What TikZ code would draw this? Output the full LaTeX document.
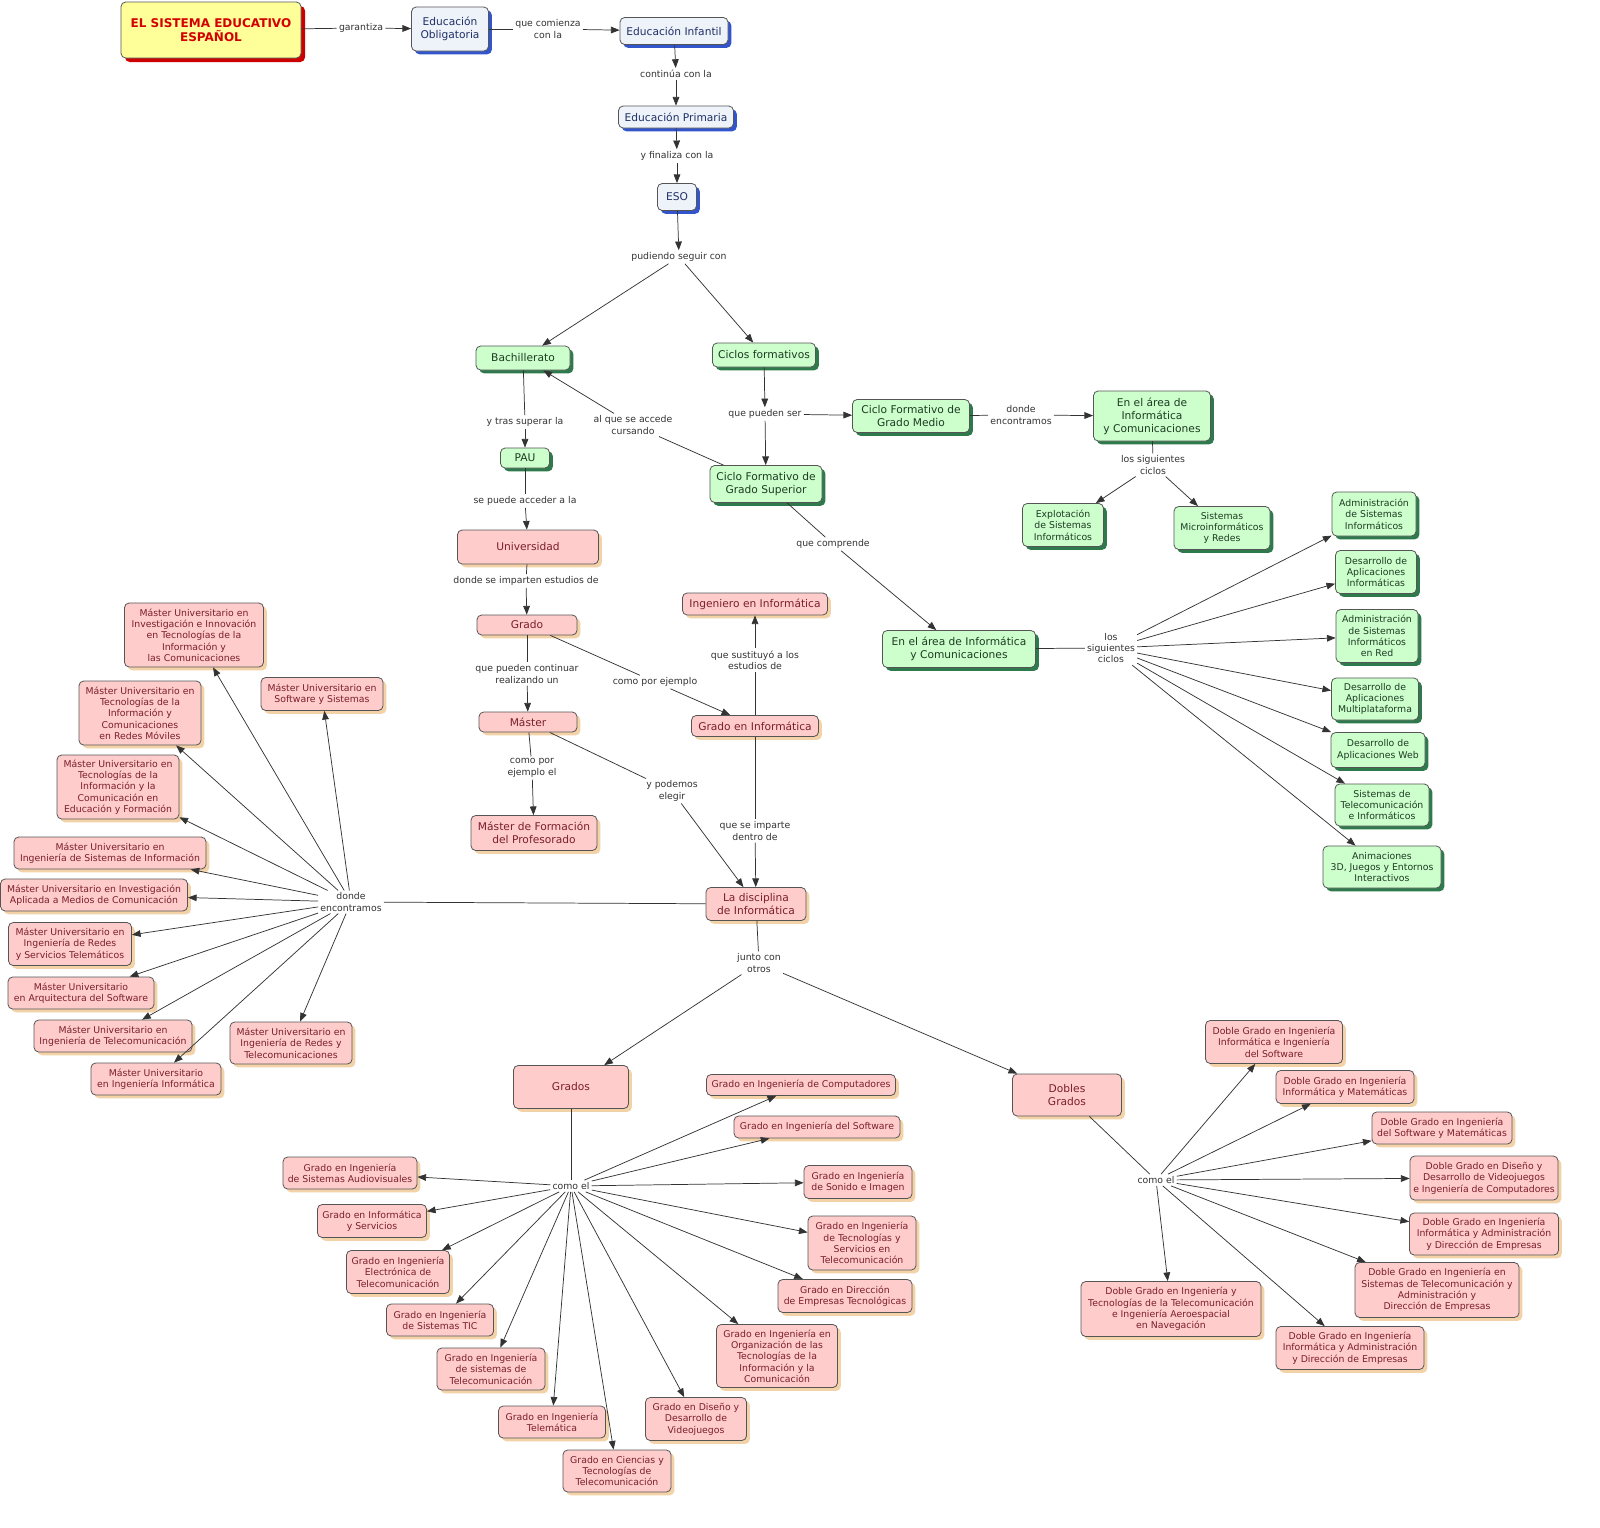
\documentclass[tikz,border=0pt]{standalone}
\usepackage{fontspec}
\setmainfont{DejaVu Sans}
\usetikzlibrary{arrows.meta,shadows}
\definecolor{pkf}{HTML}{FFCCCC}
\definecolor{pkt}{HTML}{7A1E2A}
\definecolor{pks}{HTML}{F2D2A6}
\definecolor{gnf}{HTML}{CCFFCC}
\definecolor{gnt}{HTML}{1E3A22}
\definecolor{gns}{HTML}{2F7A4C}
\definecolor{blf}{HTML}{EEF3FA}
\definecolor{blt}{HTML}{1F2F66}
\definecolor{bls}{HTML}{3355CC}
\definecolor{ylf}{HTML}{FFFF99}
\definecolor{ylt}{HTML}{D40000}
\definecolor{yls}{HTML}{CC0000}
\definecolor{bordc}{HTML}{555555}
\definecolor{labc}{HTML}{333333}
\definecolor{linec}{HTML}{333333}
\newcommand\mysmall{\fontsize{7}{8.5}\selectfont}
\newcommand\mybig{\fontsize{8}{9.8}\selectfont}
\begin{document}
\begin{tikzpicture}[x=0.75pt,y=-0.75pt,
  cbox/.style={draw=bordc, line width=0.6pt, rounded corners=3.5pt, align=center, inner sep=2pt, font=\mysmall},
  big/.style={font=\mybig},
  sz/.style 2 args={minimum width=#1*0.75pt, minimum height=#2*0.75pt},
  pk/.style={cbox, fill=pkf, text=pkt, general shadow={fill=pks, shadow xshift=2.5pt, shadow yshift=-2.5pt}},
  gn/.style={cbox, fill=gnf, text=gnt, general shadow={fill=gns, shadow xshift=2.5pt, shadow yshift=-2.5pt}},
  bl/.style={cbox, fill=blf, text=blt, general shadow={fill=bls, shadow xshift=2.5pt, shadow yshift=-2.5pt}},
  yl/.style={cbox, fill=ylf, text=ylt, general shadow={fill=yls, shadow xshift=3pt, shadow yshift=-3pt}},
  lab/.style={font=\mysmall, text=labc, align=center, inner sep=1.5pt},
  ln/.style={draw=linec, line width=0.55pt},
  ar/.style={ln, -{Triangle[length=6.5pt,width=5pt]}}
]
\useasboundingbox[fill=white] (0,0) rectangle (1600,1528);

% ---------- top chain ----------
\node[yl, sz={180}{56}, font=\bfseries\fontsize{9}{11}\selectfont] (title) at (211,30) {EL SISTEMA EDUCATIVO\\ESPAÑOL};
\node[bl, big, sz={77}{44}] (obl) at (450,29) {Educación\\Obligatoria};
\node[bl, big, sz={108}{27}] (inf) at (674,31) {Educación Infantil};
\node[bl, big, sz={115}{22}] (prim) at (676,117) {Educación Primaria};
\node[bl, big, sz={39}{27}] (eso) at (677,197) {ESO};

\node[lab] (l1) at (361,28) {garantiza};
\node[lab] (l2) at (548,29) {que comienza\\con la};
\node[lab] (l3) at (676,74) {continúa con la};
\node[lab] (l4) at (677,156) {y finaliza con la};
\node[lab] (l5) at (679,257) {pudiendo seguir con};

% ---------- green ----------
\node[gn, big, sz={94}{24}] (bach) at (523,358) {Bachillerato};
\node[gn, big, sz={103}{24}] (cic) at (764,355) {Ciclos formativos};
\node[lab] (l6) at (765,414) {que pueden ser};
\node[gn, big, sz={117}{33}] (gm) at (911,416) {Ciclo Formativo de\\Grado Medio};
\node[lab] (l7) at (1021,415) {donde\\encontramos};
\node[gn, big, sz={117}{50}] (a1) at (1152,416) {En el área de\\Informática\\y Comunicaciones};
\node[lab] (l8) at (1153,465) {los siguientes\\ciclos};
\node[gn, sz={81}{43}] (exp) at (1063,525) {Explotación\\de Sistemas\\Informáticos};
\node[gn, sz={96}{43}] (smr) at (1222,528) {Sistemas\\Microinformáticos\\y Redes};
\node[gn, big, sz={112}{37}] (gs) at (766,484) {Ciclo Formativo de\\Grado Superior};
\node[lab] (l9) at (633,425) {al que se accede\\cursando};
\node[lab] (l10) at (525,422) {y tras superar la};
\node[gn, big, sz={49}{20}] (pau) at (525,458) {PAU};
\node[lab] (l11) at (525,501) {se puede acceder a la};
\node[lab] (l12) at (833,544) {que comprende};
\node[gn, big, sz={153}{37}] (a2) at (959,649) {En el área de Informática\\y Comunicaciones};
\node[lab] (l13) at (1111,648) {los\\siguientes\\ciclos};
\node[gn, sz={84}{44}] (c1) at (1374,514) {Administración\\de Sistemas\\Informáticos};
\node[gn, sz={81}{43}] (c2) at (1376,572) {Desarrollo de\\Aplicaciones\\Informáticas};
\node[gn, sz={82}{53}] (c3) at (1377,636) {Administración\\de Sistemas\\Informáticos\\en Red};
\node[gn, sz={87}{42}] (c4) at (1375,699) {Desarrollo de\\Aplicaciones\\Multiplataforma};
\node[gn, sz={94}{35}] (c5) at (1378,750) {Desarrollo de\\Aplicaciones Web};
\node[gn, sz={94}{42}] (c6) at (1382,805) {Sistemas de\\Telecomunicación\\e Informáticos};
\node[gn, sz={118}{42}] (c7) at (1382,867) {Animaciones\\3D, Juegos y Entornos\\Interactivos};

% ---------- pink main ----------
\node[pk, big, sz={141}{34}] (univ) at (528,547) {Universidad};
\node[lab] (l14) at (526,581) {donde se imparten estudios de};
\node[pk, big, sz={100}{20}] (grado) at (527,625) {Grado};
\node[lab] (l15) at (527,674) {que pueden continuar\\realizando un};
\node[pk, big, sz={98}{20}] (mast) at (528,722) {Máster};
\node[lab] (l16) at (532,768) {como por\\ejemplo el};
\node[pk, big, sz={126}{35}] (mfp) at (534,833) {Máster de Formación\\del Profesorado};
\node[lab] (l17) at (655,682) {como por ejemplo};
\node[pk, big, sz={127}{21}] (ginf) at (755,726) {Grado en Informática};
\node[pk, big, sz={145}{22}] (ingen) at (755,604) {Ingeniero en Informática};
\node[lab] (l18) at (755,660) {que sustituyó a los\\estudios de};
\node[lab] (l19) at (672,791) {y podemos\\elegir};
\node[lab] (l20) at (755,831) {que se imparte\\dentro de};
\node[pk, big, sz={100}{33}] (disc) at (756,904) {La disciplina\\de Informática};
\node[lab] (l21) at (351,902) {donde\\encontramos};
\node[lab] (l22) at (759,963) {junto con\\otros};
\node[pk, big, sz={115}{43}] (grs) at (571,1087) {Grados};
\node[pk, big, sz={109}{42}] (dbl) at (1067,1095) {Dobles\\Grados};
\node[lab] (l23) at (571,1186) {como el};
\node[lab] (l24) at (1156,1180) {como el};

% ---------- masters ----------
\node[pk, sz={139}{64}] (m1) at (194,635) {Máster Universitario en\\Investigación e Innovación\\en Tecnologías de la\\Información y\\las Comunicaciones};
\node[pk, sz={122}{33}] (m2) at (322,694) {Máster Universitario en\\Software y Sistemas};
\node[pk, sz={122}{64}] (m3) at (140,713) {Máster Universitario en\\Tecnologías de la\\Información y\\Comunicaciones\\en Redes Móviles};
\node[pk, sz={122}{64}] (m4) at (118,787) {Máster Universitario en\\Tecnologías de la\\Información y la\\Comunicación en\\Educación y Formación};
\node[pk, sz={192}{32}] (m5) at (110,853) {Máster Universitario en\\Ingeniería de Sistemas de Información};
\node[pk, sz={187}{32}] (m6) at (94,895) {Máster Universitario en Investigación\\Aplicada a Medios de Comunicación};
\node[pk, sz={123}{43}] (m7) at (70,944) {Máster Universitario en\\Ingeniería de Redes\\y Servicios Telemáticos};
\node[pk, sz={146}{32}] (m8) at (81,993) {Máster Universitario\\en Arquitectura del Software};
\node[pk, sz={158}{32}] (m9) at (113,1036) {Máster Universitario en\\Ingeniería de Telecomunicación};
\node[pk, sz={130}{32}] (m10) at (156,1079) {Máster Universitario\\en Ingeniería Informática};
\node[pk, sz={122}{42}] (m11) at (291,1043) {Máster Universitario en\\Ingeniería de Redes y\\Telecomunicaciones};

% ---------- grados ----------
\node[pk, sz={189}{21}] (g1) at (801,1085) {Grado en Ingeniería de Computadores};
\node[pk, sz={166}{22}] (g2) at (817,1127) {Grado en Ingeniería del Software};
\node[pk, sz={108}{33}] (g3) at (858,1182) {Grado en Ingeniería\\de Sonido e Imagen};
\node[pk, sz={108}{54}] (g4) at (862,1243) {Grado en Ingeniería\\de Tecnologías y\\Servicios en\\Telecomunicación};
\node[pk, sz={134}{33}] (g5) at (845,1296) {Grado en Dirección\\de Empresas Tecnológicas};
\node[pk, sz={121}{63}] (g6) at (777,1356) {Grado en Ingeniería en\\Organización de las\\Tecnologías de la\\Información y la\\Comunicación};
\node[pk, sz={101}{43}] (g7) at (696,1419) {Grado en Diseño y\\Desarrollo de\\Videojuegos};
\node[pk, sz={108}{42}] (g8) at (617,1471) {Grado en Ciencias y\\Tecnologías de\\Telecomunicación};
\node[pk, sz={107}{32}] (g9) at (552,1422) {Grado en Ingeniería\\Telemática};
\node[pk, sz={108}{42}] (g10) at (491,1369) {Grado en Ingeniería\\de sistemas de\\Telecomunicación};
\node[pk, sz={107}{32}] (g11) at (440,1320) {Grado en Ingeniería\\de Sistemas TIC};
\node[pk, sz={103}{43}] (g12) at (398,1272) {Grado en Ingeniería\\Electrónica de\\Telecomunicación};
\node[pk, sz={109}{33}] (g13) at (372,1221) {Grado en Informática\\y Servicios};
\node[pk, sz={134}{32}] (g14) at (350,1173) {Grado en Ingeniería\\de Sistemas Audiovisuales};

% ---------- dobles ----------
\node[pk, sz={137}{43}] (d1) at (1274,1042) {Doble Grado en Ingeniería\\Informática e Ingeniería\\del Software};
\node[pk, sz={138}{33}] (d2) at (1345,1087) {Doble Grado en Ingeniería\\Informática y Matemáticas};
\node[pk, sz={140}{32}] (d3) at (1442,1128) {Doble Grado en Ingeniería\\del Software y Matemáticas};
\node[pk, sz={148}{44}] (d4) at (1484,1178) {Doble Grado en Diseño y\\Desarrollo de Videojuegos\\e Ingeniería de Computadores};
\node[pk, sz={149}{42}] (d5) at (1484,1234) {Doble Grado en Ingeniería\\Informática y Administración\\y Dirección de Empresas};
\node[pk, sz={164}{55}] (d6) at (1437,1290) {Doble Grado en Ingeniería en\\Sistemas de Telecomunicación y\\Administración y\\Dirección de Empresas};
\node[pk, sz={148}{43}] (d7) at (1350,1348) {Doble Grado en Ingeniería\\Informática y Administración\\y Dirección de Empresas};
\node[pk, sz={180}{55}] (d8) at (1171,1309) {Doble Grado en Ingeniería y\\Tecnologías de la Telecomunicación\\e Ingeniería Aeroespacial\\en Navegación};

% ---------- connectors ----------
\draw[ln] (title) -- (l1);  \draw[ar] (l1) -- (obl);
\draw[ln] (obl) -- (l2);    \draw[ar] (l2) -- (inf);
\draw[ar] (inf) -- (l3);    \draw[ar] (l3) -- (prim);
\draw[ar] (prim) -- (l4);   \draw[ar] (l4) -- (eso);
\draw[ar] (eso) -- (l5);
\draw[ar] (l5) -- (bach);   \draw[ar] (l5) -- (cic);
\draw[ar] (cic) -- (l6);
\draw[ar] (l6) -- (gm);     \draw[ar] (l6) -- (gs);
\draw[ln] (gm) -- (l7);     \draw[ar] (l7) -- (a1);
\draw[ln] (a1) -- (l8);
\draw[ar] (l8) -- (exp);    \draw[ar] (l8) -- (smr);
\draw[ln] (gs) -- (l9);     \draw[ar] (l9) -- (bach);
\draw[ln] (bach) -- (l10);  \draw[ar] (l10) -- (pau);
\draw[ln] (pau) -- (l11);   \draw[ar] (l11) -- (univ);
\draw[ln] (gs) -- (l12);    \draw[ar] (l12) -- (a2);
\draw[ln] (a2) -- (l13);
\foreach \c in {c1,c2,c3,c4,c5,c6,c7} \draw[ar] (l13) -- (\c);
\draw[ln] (univ) -- (l14);  \draw[ar] (l14) -- (grado);
\draw[ln] (grado) -- (l15); \draw[ar] (l15) -- (mast);
\draw[ln] (mast) -- (l16);  \draw[ar] (l16) -- (mfp);
\draw[ln] (grado) -- (l17); \draw[ar] (l17) -- (ginf);
\draw[ln] (ginf) -- (l18);  \draw[ar] (l18) -- (ingen);
\draw[ln] (mast) -- (l19);  \draw[ar] (l19) -- (disc);
\draw[ln] (ginf) -- (l20);  \draw[ar] (l20) -- (disc);
\draw[ln] (disc) -- (l21);
\foreach \m in {m1,m2,m3,m4,m5,m6,m7,m8,m9,m10,m11} \draw[ar] (l21) -- (\m);
\draw[ln] (disc) -- (l22);
\draw[ar] (l22) -- (grs);   \draw[ar] (l22) -- (dbl);
\draw[ln] (grs) -- (l23);
\foreach \g in {g1,g2,g3,g4,g5,g6,g7,g8,g9,g10,g11,g12,g13,g14} \draw[ar] (l23) -- (\g);
\draw[ln] (dbl) -- (l24);
\foreach \d in {d1,d2,d3,d4,d5,d6,d7,d8} \draw[ar] (l24) -- (\d);
\end{tikzpicture}
\end{document}
